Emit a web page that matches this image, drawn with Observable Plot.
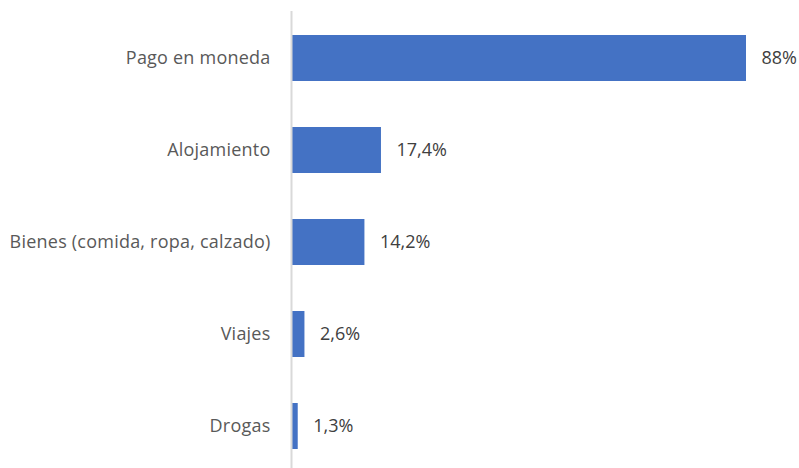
<!DOCTYPE html>
<html>
<head>
<meta charset="utf-8">
<script src="https://cdn.jsdelivr.net/npm/d3@7"></script>
<script src="https://cdn.jsdelivr.net/npm/@observablehq/plot@0.6"></script>
<style>
  html, body { margin: 0; padding: 0; background: #fff; }
  #chart svg { display: block; }
  #chart svg g[aria-label="y-axis tick label"] text { letter-spacing: 0.22px; }
</style>
</head>
<body>
<div id="chart"></div>
<script>
const categories = ["Pago en moneda", "Alojamiento", "Bienes (comida, ropa, calzado)", "Viajes", "Drogas"];
const values = [88, 17.4, 14.2, 2.6, 1.3];
const labels = ["88%", "17,4%", "14,2%", "2,6%", "1,3%"];

const data = categories.map((c, i) => ({category: c, value: values[i], label: labels[i]}));

const fontFamily = "'Open Sans', sans-serif";

const chart = Plot.plot({
  width: 799,
  height: 468,
  marginLeft: 291,
  marginRight: 53,
  marginTop: 11,
  marginBottom: 0,
  style: {fontFamily, fontSize: "18px", color: "#595959", background: "#fff"},
  x: {domain: [0, 88], axis: null},
  y: {domain: categories, range: [11.3, 473.3], paddingInner: 0.5, paddingOuter: 0.25, label: null},
  marks: [
    Plot.barX(data, {x: "value", y: "category", fill: "#4472C4"}),
    Plot.ruleX([0], {stroke: "#d9d9d9", strokeWidth: 2}),
    Plot.axisY({tickSize: 0, tickPadding: 21, label: null, fontSize: 18, fill: "#595959"}),
    Plot.text(data, {x: "value", y: "category", text: "label", textAnchor: "start", dx: 15, fontSize: 18, fill: "#404040"})
  ]
});

document.getElementById("chart").appendChild(chart);
</script>
</body>
</html>
